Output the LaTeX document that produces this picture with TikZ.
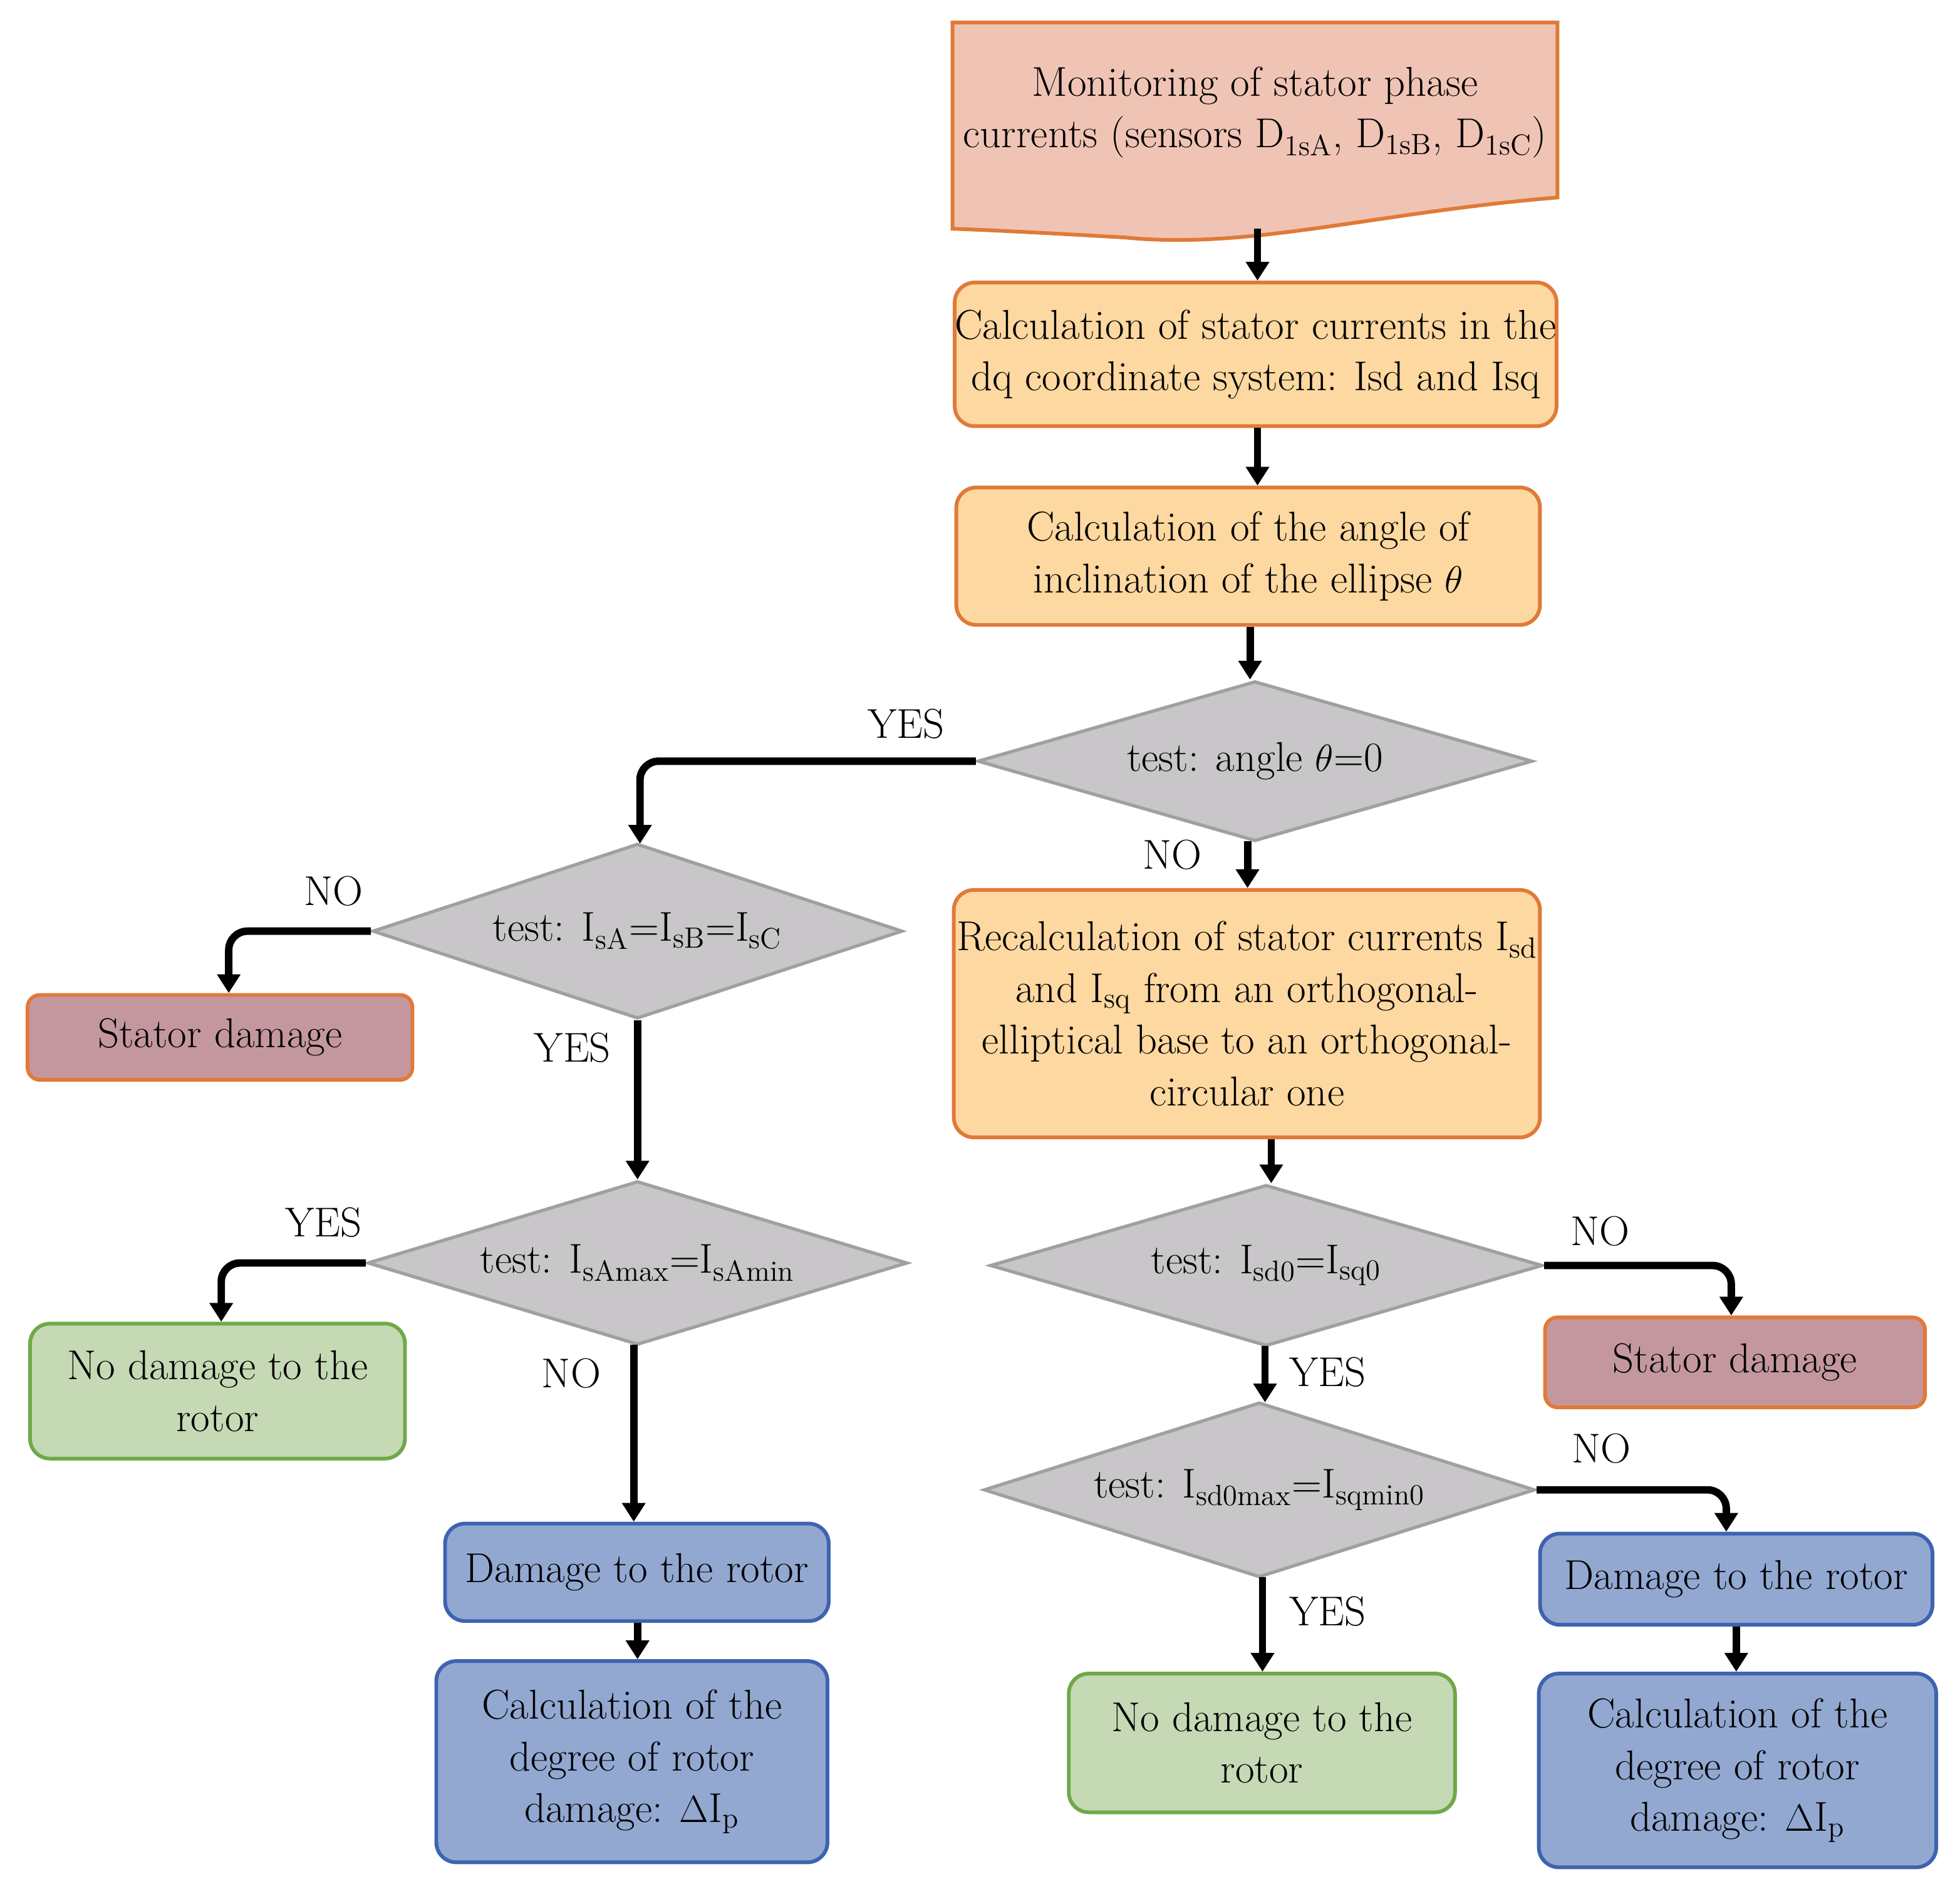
\documentclass[tikz,border=0pt]{standalone}
\usetikzlibrary{shapes.geometric,arrows.meta}
\definecolor{docf}{HTML}{F0C4B4}\definecolor{orl}{HTML}{E07A38}
\definecolor{ylf}{HTML}{FDD8A0}
\definecolor{stf}{HTML}{C4979F}
\definecolor{grf}{HTML}{C5D9B5}\definecolor{grl}{HTML}{70A84A}
\definecolor{blf}{HTML}{92A8D1}\definecolor{bll}{HTML}{3E63B0}
\definecolor{dmf}{HTML}{C8C6C8}\definecolor{dml}{HTML}{A0A0A0}
\begin{document}
\begin{tikzpicture}[x=0.02cm,y=-0.02cm,
  every node/.style={font=\fontsize{19}{23.5}\selectfont},
  bx/.style={draw,line width=1.7pt,rounded corners=0.32cm,align=center,inner sep=0pt},
  yb/.style={bx,draw=orl,fill=ylf},
  sb/.style={bx,draw=orl,fill=stf,rounded corners=0.2cm},
  gb/.style={bx,draw=grl,fill=grf},
  bb/.style={bx,draw=bll,fill=blf},
  dm/.style={diamond,draw=dml,fill=dmf,line width=1.5pt,inner sep=0pt,aspect=3.3},
  ar/.style={line width=3.4pt,-{Triangle[length=0.3cm,width=0.36cm]},rounded corners=0.3cm},
  lb/.style={inner sep=0pt}]
\useasboundingbox (0,0) rectangle (1568,1515);
% document shape
\draw[draw=orl,fill=docf,line width=1.7pt] (762,18) -- (1246,18) -- (1246,158)
  .. controls (1100,170) and (1000,200) .. (900,190) .. controls (830,186) and (790,184) .. (762,183) -- cycle;
\node[lb,align=center] (doc) at (1004,90) {Monitoring of stator phase\\currents (sensors D\textsubscript{1sA}, D\textsubscript{1sB}, D\textsubscript{1sC})};
\coordinate (docb) at (1006,183);
\node[yb,minimum width=9.58cm,minimum height=2.3cm] (b2) at (1004.5,283.5) {Calculation of stator currents in the\\dq coordinate system: Isd and Isq};
\node[yb,minimum width=9.34cm,minimum height=2.2cm] (b3) at (998.5,445) {Calculation of the angle of\\inclination of the ellipse $\theta$};
\node[dm,minimum width=8.88cm,minimum height=2.56cm] (d1) at (1004,609) {test: angle $\theta$=0};
\node[dm,minimum width=8.48cm,minimum height=2.8cm] (d2) at (510,745) {test: I\textsubscript{sA}=I\textsubscript{sB}=I\textsubscript{sC}};
\node[yb,minimum width=9.38cm,minimum height=3.96cm] (rc) at (997.5,811) {Recalculation of stator currents I\textsubscript{sd}\\and I\textsubscript{sq} from an orthogonal-\\elliptical base to an orthogonal-\\circular one};
\node[sb,minimum width=6.16cm,minimum height=1.36cm] (s1) at (176,830) {Stator damage};
\node[dm,minimum width=8.64cm,minimum height=2.62cm] (d3) at (510,1010.5) {test: I\textsubscript{sAmax}=I\textsubscript{sAmin}};
\node[dm,minimum width=8.84cm,minimum height=2.58cm] (d4) at (1013,1012.5) {test: I\textsubscript{sd0}=I\textsubscript{sq0}};
\node[sb,minimum width=6.08cm,minimum height=1.44cm] (s2) at (1388,1090) {Stator damage};
\node[gb,minimum width=6.0cm,minimum height=2.16cm] (g1) at (174,1113) {No damage to the\\rotor};
\node[dm,minimum width=8.82cm,minimum height=2.8cm] (d5) at (1007.5,1192) {test: I\textsubscript{sd0max}=I\textsubscript{sqmin0}};
\node[bb,minimum width=6.14cm,minimum height=1.56cm] (r1) at (509.5,1258) {Damage to the rotor};
\node[bb,minimum width=6.26cm,minimum height=3.22cm] (c1) at (505.5,1409.5) {Calculation of the\\degree of rotor\\damage: $\Delta$I\textsubscript{p}};
\node[bb,minimum width=6.28cm,minimum height=1.46cm] (r2) at (1389,1263.5) {Damage to the rotor};
\node[gb,minimum width=6.18cm,minimum height=2.22cm] (g2) at (1009.5,1394.5) {No damage to the\\rotor};
\node[bb,minimum width=6.36cm,minimum height=3.1cm] (c2) at (1390,1416.5) {Calculation of the\\degree of rotor\\damage: $\Delta$I\textsubscript{p}};
% arrows
\draw[ar] (docb) -- (docb |- b2.north);
\draw[ar] (b2.south -| 1006,0) -- (1006,0 |- b3.north);
\draw[ar] (b3.south -| 1000,0) -- (1000,0 |- d1.north);
\draw[ar] (d1.west) -| (512,675);
\draw[ar] (998,673) -- (998,0 |- rc.north);
\draw[ar] (d2.west) -| (183,0 |- s1.north);
\draw[ar] (d2.south) -- (d3.north);
\draw[ar] (d3.west) -| (177,0 |- g1.north);
\draw[ar] (507,1076) -- (507,0 |- r1.north);
\draw[ar] (r1.south -| 510,0) -- (510,0 |- c1.north);
\draw[ar] (1017,0 |- rc.south) -- (1017,0 |- d4.north);
\draw[ar] (d4.east) -| (1385,0 |- s2.north);
\draw[ar] (1012,1077) -- (1012,1122);
\draw[ar] (d5.east) -| (1381,0 |- r2.north);
\draw[ar] (1010,1262) -- (1010,0 |- g2.north);
\draw[ar] (r2.south -| 1389,0) -- (1389,0 |- c2.north);
% labels
\node[lb] (l1) at (725,579) {YES};
\node[lb] (l2) at (938,684) {NO};
\node[lb] (l3) at (267,713) {NO};
\node[lb] (l4) at (458,838) {YES};
\node[lb] (l5) at (259,978) {YES};
\node[lb] (l6) at (457,1099) {NO};
\node[lb] (l7) at (1280,985) {NO};
\node[lb] (l8) at (1062,1098) {YES};
\node[lb] (l9) at (1281,1159) {NO};
\node[lb] (l10) at (1062,1289) {YES};
\end{tikzpicture}
\end{document}
